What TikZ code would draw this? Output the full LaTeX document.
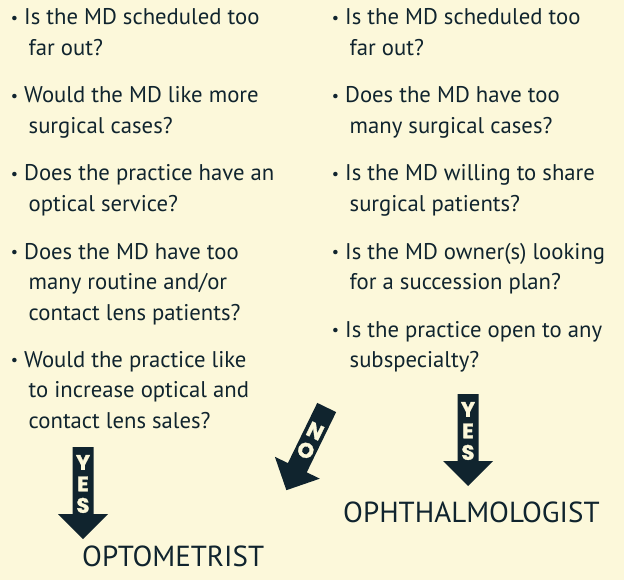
\documentclass[tikz,border=0pt]{standalone}
\usepackage{fontspec}
\setmainfont{PT Sans}
\newfontfamily\signfont{Poppins}[BoldFeatures = {FakeBold = 1.5}]

\definecolor{paper}{HTML}{FCF8DA}
\definecolor{ink}{HTML}{10242E}

\newcommand\brk{\\\hspace*{4.5pt}}
\newcommand\qdot{\llap{\raisebox{1.5pt}{\fontsize{16}{16}\selectfont\textbullet}\hspace{6pt}}}

\tikzset{
	question/.style = {anchor = base west, align = left, inner sep = 0pt, text = ink,
		font = \fontsize{22.7}{30.5}\selectfont},
	answer/.style = {anchor = base west, inner sep = 0pt, text = ink,
		font = \fontsize{29}{30}\selectfont},
	signtext/.style = {align = center, inner sep = 0pt, text = paper, transform shape,
		font = \signfont\bfseries\fontsize{21}{21.5}\selectfont},
	bigarrow/.pic = {
		\fill [ink] (-10.5, 0) -- (10.5, 0) -- (10.5, 67) -- (25, 67) -- (0, 92)
			-- (-25, 67) -- (-10.5, 67) -- cycle;
		\node [signtext] (-sign) at (0, 37) {#1};
	}
}

\begin{document}
\begin{tikzpicture}[x = 1pt, y = -1pt]

	% Background and page size

	\fill [paper] (0, 0) rectangle (624, 580);
	\useasboundingbox (0, 0) rectangle (624, 580);

	% Questions for the optometrist (y = baseline of the last line)

	\foreach \y/\q [count = \i] in {55.5/{Is the MD scheduled too\brk far out?},
		133.5/{Would the MD like more\brk surgical cases?},
		211.5/{Does the practice have an\brk optical service?},
		320/{Does the MD have too\brk many routine and/or\brk contact lens patients?},
		428/{Would the practice like\brk to increase optical and\brk contact lens sales?}}
		\node [question] (od\i) at (24, \y) {\qdot\q};

	% Questions for the ophthalmologist

	\foreach \y/\q [count = \i] in {55.5/{Is the MD scheduled too\brk far out?},
		133.5/{Does the MD have too\brk many surgical cases?},
		211.5/{Is the MD willing to share\brk surgical patients?},
		289.5/{Is the MD owner(s) looking\brk for a succession plan?},
		367.5/{Is the practice open to any\brk subspecialty?}}
		\node [question] (md\i) at (345, \y) {\qdot\q};

	% Answers

	\node [answer] (optometrist) at (82, 566) {OPTOMETRIST};
	\node [answer] (ophthalmologist) at (343, 522) {OPHTHALMOLOGIST};

	% Yes / no arrows

	\pic (yesod) at (83, 447) {bigarrow = {Y\\E\\S}};
	\pic (yesmd) at (468, 394) {bigarrow = {Y\\E\\S}};
	\pic [rotate = -26] (no) at (326.7, 407.5) {bigarrow = {N\\O}};

\end{tikzpicture}
\end{document}
